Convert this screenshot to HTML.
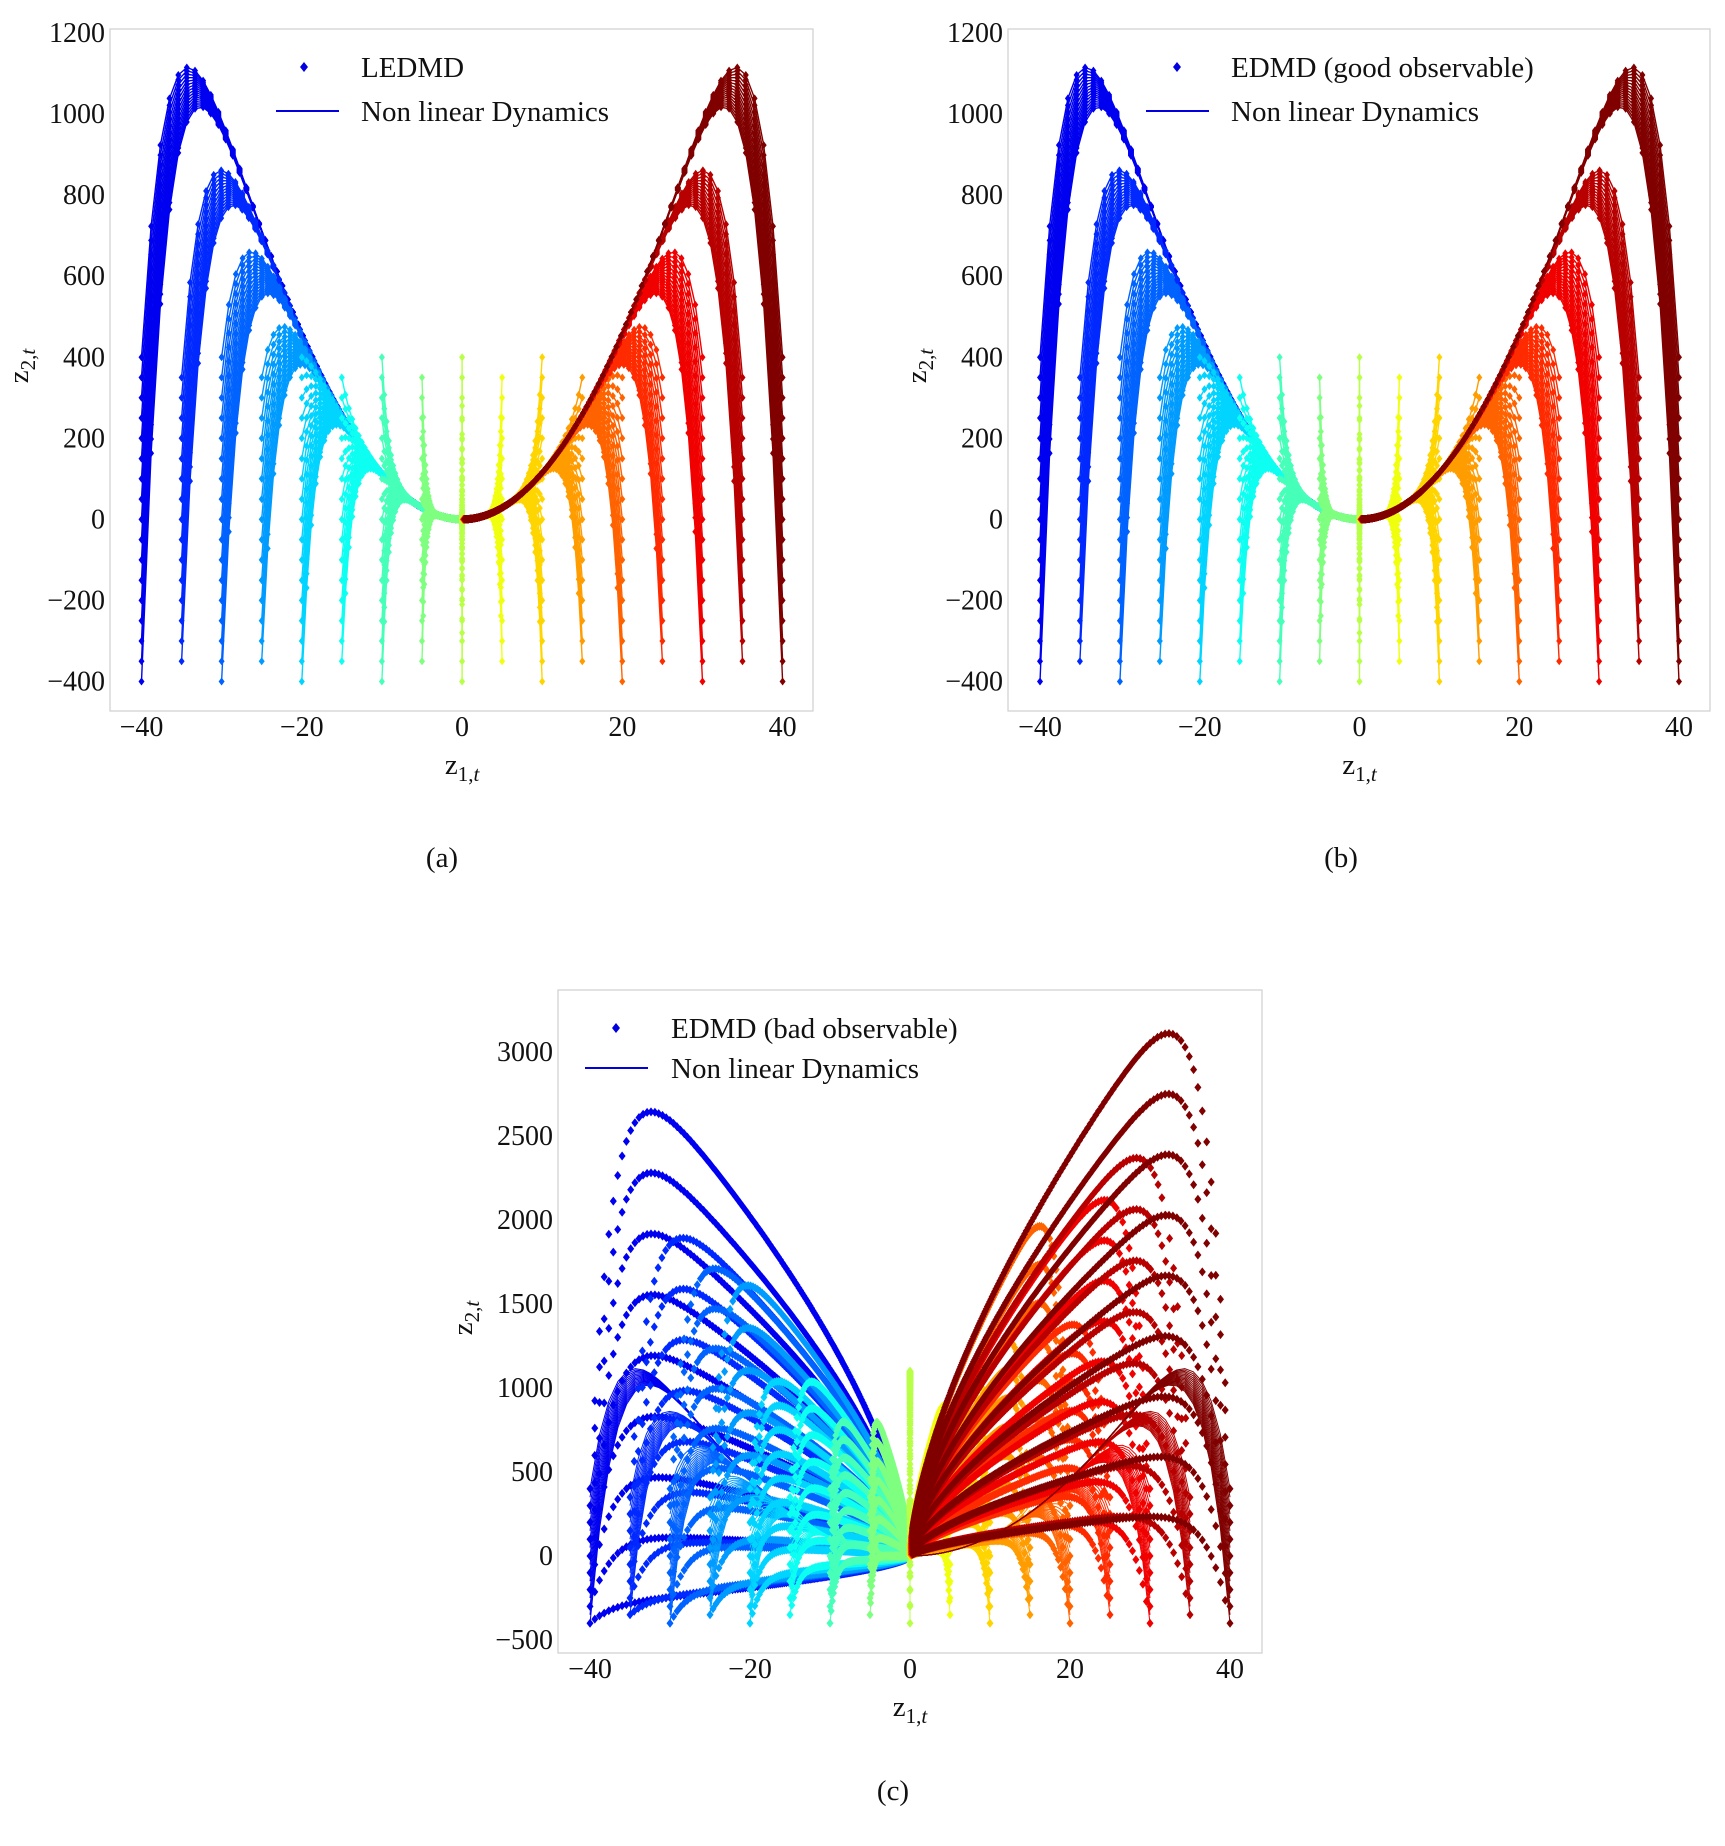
<!DOCTYPE html>
<html><head><meta charset="utf-8">
<style>
html,body{margin:0;padding:0;background:#fff;}
svg{display:block;}
text{font-family:"Liberation Serif",serif;fill:#111;}
</style></head>
<body>
<svg id="fig" width="1725" height="1846" viewBox="0 0 1725 1846" xmlns="http://www.w3.org/2000/svg">
<defs>
<clipPath id="clipA"><rect x="110" y="29" width="703" height="682"/></clipPath>
<clipPath id="clipB"><rect x="1008" y="29" width="702" height="682"/></clipPath>
<clipPath id="clipC"><rect x="558" y="990" width="704" height="663"/></clipPath>
</defs>
</svg>
<script>
// ---- data ----
const colX = [-40,-35,-30,-25,-20,-15,-10,-5,0,5,10,15,20,25,30,35,40];
const evenZ0 = [-400,-350,-300,-250,-200,-150,-100,-50,0,50,100,150,200,250,300,350,400];
const oddZ0 = [-350,-300,-250,-200,-150,-100,-50,0,50,100,150,200,250,300,350];
const LAMBDA = 0.97;
const MU = 0.7;
const STEPS = 160;
const MANIFOLD_C = 1.15;
const LAMBDA_C = 0.985;
const MU_C = 0.8;
const STEPS_C = 320;
// panel (c) predicted peaks per column (top and bottom trajectories)
const cPeakTop = [2700,1930,1740,1640,1050,1050,800,800,0,900,1080,1300,2000,1400,2160,2420,3180];
const cPeakLow = [-250,-220,-180,-150,-100,-60,-30,0,0,50,80,100,150,200,220,250,250];
const abYTicks = [-400,-200,0,200,400,600,800,1000,1200];
const cYTicks = [-500,0,500,1000,1500,2000,2500,3000];
const xTicks = [-40,-20,0,20,40];

const NS = "http://www.w3.org/2000/svg";
const svg = document.getElementById('fig');
function mk(tag, attrs, parent){
  const e = document.createElementNS(NS, tag);
  for (const k in attrs) e.setAttribute(k, attrs[k]);
  (parent||svg).appendChild(e);
  return e;
}
function jet(v){
  const c = t => Math.max(0, Math.min(1, t));
  const r = c(1.5 - Math.abs(4*v-3)), g = c(1.5 - Math.abs(4*v-2)), b = c(1.5 - Math.abs(4*v-1));
  return 'rgb(' + Math.round(r*255) + ',' + Math.round(g*255) + ',' + Math.round(b*255) + ')';
}
function fmt(v){ return v < 0 ? '\u2212' + Math.abs(v) : String(v); }

function trueTraj(x0, z0){
  const pts = [];
  let z1 = x0, d = z0 - MANIFOLD_C*x0*x0;
  for (let t=0; t<=STEPS; t++){
    pts.push([z1, MANIFOLD_C*z1*z1 + d]);
    z1 *= LAMBDA; d *= MU;
  }
  return pts;
}
function badTraj(x0, z0, P){
  const pts = [];
  if (x0 === 0){
    let z = z0;
    for (let t=0; t<=60; t++){ pts.push([0, z]); z = z*0.85 + 1100*0.15*(z0>0?1:0.3); }
    return pts;
  }
  const Z = 0.78*Math.abs(x0);
  const M = z1 => P*Math.pow(Math.abs(z1)/Z, 0.65);
  let z1 = x0, d = z0 - M(x0);
  for (let t=0; t<=STEPS_C; t++){
    pts.push([z1, M(z1) + d]);
    z1 *= LAMBDA_C; d *= MU_C;
  }
  return pts;
}

function panel(cfg){
  const g = mk('g', {});
  
  
  const xs = v => cfg.px0 + (v - cfg.dx0)*(cfg.px1 - cfg.px0)/(cfg.dx1 - cfg.dx0);
  const ys = v => cfg.py0 + (v - cfg.dy0)*(cfg.py1 - cfg.py0)/(cfg.dy1 - cfg.dy0);
  const box = mk('rect', {x:cfg.box[0], y:cfg.box[1], width:cfg.box[2]-cfg.box[0], height:cfg.box[3]-cfg.box[1], fill:'#fff', stroke:'#cfcfcf', 'stroke-width':1.2}, g);
  
  
  const data = mk('g', {'clip-path':'url(#' + cfg.clip + ')'}, g);
  
  
  const mw = cfg.mw, mh = cfg.mh;
  colX.forEach((x0, ci) => {
    const col = jet(0.11 + 0.89*ci/(colX.length-1));
    const zs = (Math.abs(x0) % 10 === 0) ? evenZ0 : oddZ0;
    zs.forEach((z0, k) => {
      const tr = trueTraj(x0, z0);
      let pr = tr;
      if (cfg.bad){
        const u = k/(zs.length-1);
        const P = cPeakLow[ci] + (cPeakTop[ci] - cPeakLow[ci])*u;
        pr = (k % 2 === 0) ? badTraj(x0, z0, P) : [];
      }
      let d = '';
      tr.forEach((p,i) => { d += (i?'L':'M') + xs(p[0]).toFixed(1) + ' ' + ys(p[1]).toFixed(1); });
      const ln = mk('path', {d:d, fill:'none', stroke:col, 'stroke-width':cfg.bad?1:1.4}, data);
      
      
      let md = '';
      pr.forEach(p => {
        const X = xs(p[0]), Y = ys(p[1]);
        if (X < cfg.box[0]-5 || X > cfg.box[2]+5 || Y < cfg.box[1]-5 || Y > cfg.box[3]+5) return;
        md += 'M' + X.toFixed(1) + ' ' + (Y-mh).toFixed(1) + 'l' + mw + ' ' + mh + 'l' + (-mw) + ' ' + mh + 'l' + (-mw) + ' ' + (-mh) + 'z';
      });
      const mkp = mk('path', {d:md, fill:col, stroke:'none'}, data);
      
      
    });
  });
  cfg.yTicks.forEach(v => {
    const t = mk('text', {x:cfg.box[0]-5, y:ys(v)+9, 'text-anchor':'end', 'font-size':28}, g);
    t.textContent = fmt(v);
    
    
  });
  xTicks.forEach(v => {
    const t = mk('text', {x:xs(v), y:cfg.box[3]+25, 'text-anchor':'middle', 'font-size':28}, g);
    t.textContent = fmt(v);
    
    
  });
  const xt = mk('text', {x:xs(0), y:cfg.box[3]+63, 'text-anchor':'middle', 'font-size':29}, g);
  xt.innerHTML = 'z<tspan font-size="21" dy="7">1,<tspan font-style="italic">t</tspan></tspan>';
  
  
  const yt = mk('text', {x:0, y:0, 'text-anchor':'middle', 'font-size':29, transform:'translate(' + cfg.ytx + ',' + cfg.yty + ') rotate(-90)'}, g);
  yt.innerHTML = 'z<tspan font-size="21" dy="7">2,<tspan font-style="italic">t</tspan></tspan>';
  
  
  const lg = mk('g', {}, g);
  
  
  const L = cfg.legend;
  mk('path', {d:'M' + L.mx + ' ' + (L.my-5) + 'l4 5l-4 5l-4 -5z', fill:'#0000e0'}, lg);
  mk('line', {x1:L.lx1, x2:L.lx2, y1:L.ly, y2:L.ly, stroke:'#0000e0', 'stroke-width':2}, lg);
  const t1 = mk('text', {x:L.tx, y:L.my+10, 'font-size':29}, lg);
  t1.textContent = L.label;
  
  
  const t2 = mk('text', {x:L.tx, y:L.ly+10, 'font-size':29}, lg);
  t2.textContent = 'Non linear Dynamics';
  
  
  const cap = mk('text', {x:cfg.capx, y:cfg.capy, 'text-anchor':'middle', 'font-size':29}, g);
  cap.textContent = cfg.cap;
  
  
}

panel({name:'panel-a', clip:'clipA', box:[110,29,813,711], dx0:-40, dx1:40, px0:141.5, px1:782.6, dy0:-400, dy1:1200, py0:681.5, py1:33,
  yTicks:abYTicks, mw:3, mh:4, ytx:28, yty:366, cap:'(a)', capx:442, capy:867,
  legend:{mx:304, my:67, lx1:276, lx2:339, ly:111, tx:361, label:'LEDMD'}});
panel({name:'panel-b', clip:'clipB', box:[1008,29,1710,711], dx0:-40, dx1:40, px0:1040, px1:1679, dy0:-400, dy1:1200, py0:681.5, py1:33,
  yTicks:abYTicks, mw:3, mh:4, ytx:926, yty:366, cap:'(b)', capx:1341, capy:867,
  legend:{mx:1177, my:67, lx1:1146, lx2:1209, ly:111, tx:1231, label:'EDMD (good observable)'}});
panel({name:'panel-c', clip:'clipC', box:[558,990,1262,1653], dx0:-40, dx1:40, px0:590, px1:1230, dy0:-500, dy1:3000, py0:1640, py1:1052,
  yTicks:cYTicks, mw:3.5, mh:4.5, bad:true, ytx:472, yty:1318, cap:'(c)', capx:893, capy:1800,
  legend:{mx:616, my:1028, lx1:585, lx2:648, ly:1068, tx:671, label:'EDMD (bad observable)'}});
</script>
</body></html>
